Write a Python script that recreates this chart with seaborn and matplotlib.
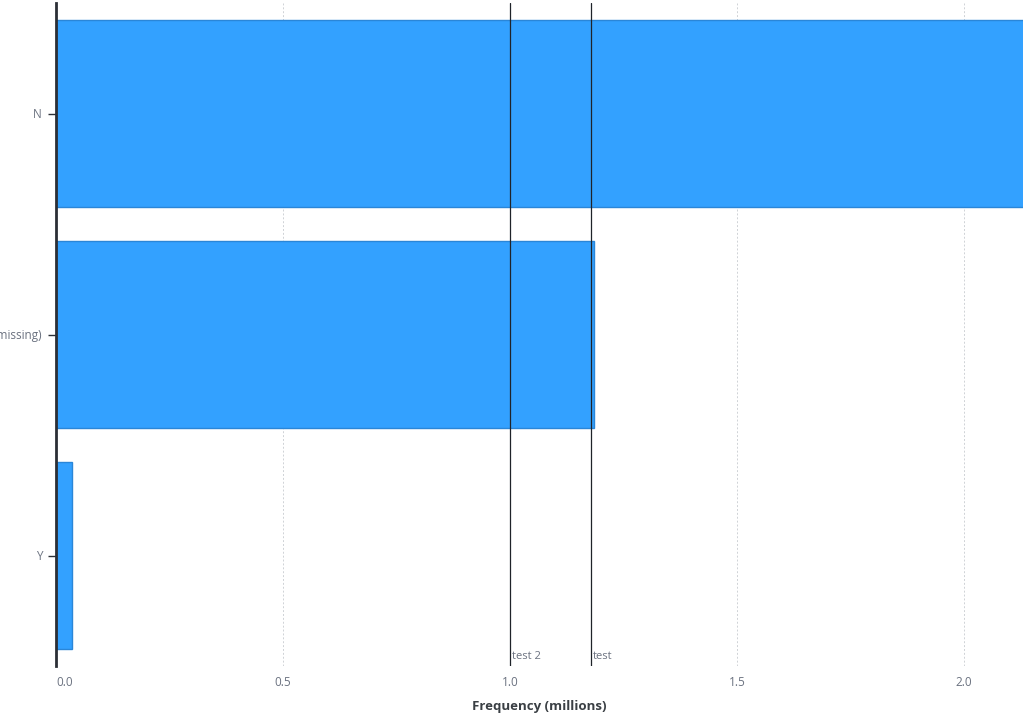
import pandas as pd
import seaborn as sns
import matplotlib.pyplot as plt
import matplotlib.transforms as mtransforms

# Data (frequency in millions)
categories = ["N", "(missing)", "Y"]
frequency = [2.25, 1.185, 0.035]

ref_names = ["test 2", "test"]
ref_values = [1.0, 1.178]

df = pd.DataFrame({"category": categories, "frequency": frequency})

sns.set_style("white")
plt.rcParams["font.family"] = ["Open Sans", "DejaVu Sans"]

fig = plt.figure(figsize=(10.23, 7.15), dpi=100)
ax = fig.add_axes([56 / 1023, 1 - 666 / 715, 1 - 56 / 1023, 663 / 715])

sns.barplot(data=df, x="frequency", y="category", orient="h", color="#33a1ff",
            saturation=1, width=0.85, edgecolor="#2a86d8", linewidth=1, ax=ax)

ax.set_xlim(0, 2.13)
ax.set_ylim(2.5, -0.5)
ax.set_xticks([0, 0.5, 1.0, 1.5, 2.0])
ax.set_xticklabels(["0.0", "0.5", "1.0", "1.5", "2.0"])
ax.xaxis.grid(True, linestyle=(0, (2, 2)), color="#cfd2d6", linewidth=0.7)
ax.set_axisbelow(True)

for s in ["top", "right", "bottom"]:
    ax.spines[s].set_visible(False)
ax.spines["left"].set_color("#2b2f36")
ax.spines["left"].set_linewidth(2)
ax.spines["left"].set_zorder(5)

ax.tick_params(axis="y", length=6, width=1, color="#2b2f36", labelsize=8.5,
               labelcolor="#6b7280", pad=4, left=True)
ax.tick_params(axis="x", length=0, labelsize=8.5, labelcolor="#6b7280", pad=7)
ax.get_xticklabels()[0].set_horizontalalignment("left")

ax.set_ylabel("")
ax.set_xlabel("Frequency (millions)", fontsize=9.5, fontweight="bold",
              color="#3a3f44", labelpad=8)

# reference lines with labels at the bottom
trans = mtransforms.blended_transform_factory(ax.transData, ax.transAxes)
for name, val in zip(ref_names, ref_values):
    ax.axvline(val, color="#1f2329", linewidth=0.9, zorder=4)
    ax.text(val + 0.004, 0.006, name, transform=trans, fontsize=8,
            color="#6b7280", ha="left", va="bottom")

fig.savefig("out.png", dpi=100)
